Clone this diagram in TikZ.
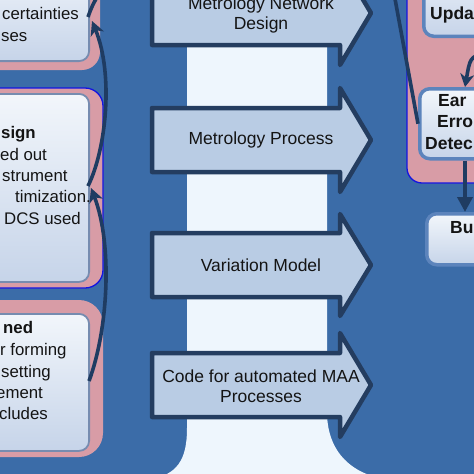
\documentclass[tikz,border=0pt]{standalone}
\usepackage{fontspec}
\setmainfont{Liberation Sans}
\usetikzlibrary{arrows.meta}
\definecolor{bgblue}{RGB}{59,108,168}
\definecolor{colwhite}{RGB}{238,246,253}
\definecolor{pinkbg}{RGB}{216,156,166}
\definecolor{outl}{RGB}{20,20,225}
\definecolor{arrfill}{RGB}{185,204,228}
\definecolor{arrdraw}{RGB}{36,61,96}
\definecolor{curvec}{RGB}{31,60,98}
\definecolor{lboxdraw}{RGB}{118,140,176}
\definecolor{rboxdraw}{RGB}{92,132,188}
\definecolor{boxtop}{RGB}{242,246,251}
\definecolor{boxbot}{RGB}{198,212,233}
\definecolor{txt}{RGB}{20,20,20}
\tikzset{
 pinkbox/.style={fill=pinkbg, inner sep=0pt, outer sep=0pt},
 lbox/.style={draw=lboxdraw, line width=1.8pt, top color=boxtop, bottom color=boxbot, rounded corners=10pt, inner sep=0pt},
 rbox/.style={draw=rboxdraw, line width=3.5pt, top color=boxtop, bottom color=boxbot, rounded corners=10pt, inner sep=0pt},
 blockarrow/.style={draw=arrdraw, fill=arrfill, line width=4.5pt, line join=round},
 atext/.style={font=\fontsize{17.5}{20}\selectfont, text=txt, align=center, inner sep=0pt},
 ltext/.style={font=\fontsize{16.8}{21.5}\selectfont, text=txt, anchor=base west, inner sep=0pt},
 btext/.style={font=\fontsize{16.8}{21.5}\selectfont\bfseries, text=txt, anchor=base west, inner sep=0pt},
 rtext/.style={font=\fontsize{17.5}{21.5}\selectfont\bfseries, text=txt, anchor=base west, inner sep=0pt},
 curvearrow/.style={draw=curvec, line width=3.6pt, -{Stealth[length=14pt,width=14pt,inset=4pt]}},
 conn/.style={draw=curvec, line width=3.6pt},
}
\begin{document}
\begin{tikzpicture}[x=1pt,y=-1pt]
\useasboundingbox (0,0) rectangle (474,474);
\begin{scope}
\clip (0,0) rectangle (474,474);
% background panels
\fill[bgblue] (-5,-5) rectangle (480,480);
\fill[colwhite] (187,-5) -- (187,428) .. controls (187,462) and (176,474) .. (150,480) -- (392,480) .. controls (352,476) and (327,452) .. (327,412) -- (327,-5) -- cycle;
% left column boxes
\node[pinkbox, rounded corners=18pt, anchor=south east, minimum width=140pt, minimum height=110pt] (pA) at (100,70) {};
\node[lbox, anchor=south east, minimum width=130pt, minimum height=100pt] (bA) at (90,62) {};
\node[pinkbox, draw=outl, line width=1.3pt, rounded corners=18pt, anchor=north east, minimum width=140pt, minimum height=200pt] (pB) at (103,88) {};
\node[lbox, anchor=north east, minimum width=130pt, minimum height=188pt] (bB) at (90,93) {};
\node[pinkbox, rounded corners=24pt, anchor=north east, minimum width=140pt, minimum height=157pt] (pC) at (103,300) {};
\node[lbox, anchor=north east, minimum width=130pt, minimum height=137pt] (bC) at (90,313) {};
% right column
\node[pinkbox, draw=outl, line width=1.3pt, rounded corners=15pt, anchor=south west, minimum width=120pt, minimum height=220pt] (pR) at (407,183) {};
\node[rbox, anchor=south west, minimum width=100pt, minimum height=80pt] (upd) at (422,38) {};
\node[rbox, anchor=north west, minimum width=100pt, minimum height=70pt] (early) at (418,87) {};
\node[rbox, anchor=north west, minimum width=100pt, minimum height=51pt] (bu) at (425,212) {};
% left texts
\node[ltext] (tA1) at (2,19) {certainties};
\node[ltext] (tA2) at (1,41) {ses};
\node[btext] (tB1) at (1,138) {sign};
\node[ltext] (tB2) at (0,160) {ed out};
\node[ltext] (tB3) at (2,181) {strument};
\node[ltext] (tB4) at (15,202) {timization.};
\node[ltext] (tB5) at (4,224) {DCS used};
\node[btext] (tC1) at (3,333) {ned};
\node[ltext] (tC2) at (0,355) {r forming};
\node[ltext] (tC3) at (1,377) {setting};
\node[ltext] (tC4) at (-4,398) {ement};
\node[ltext] (tC5) at (-1,419) {cludes};
% right texts
\node[rtext] (tU) at (430,19) {Upda};
\node[rtext] (tE1) at (438,106) {Ear};
\node[rtext] (tE2) at (437,127) {Erro};
\node[rtext] (tE3) at (425,149) {Detec};
\node[rtext] (tBu) at (450,233) {Bu};
% left curved arrows
\coordinate (c1s) at (89,381); \coordinate (c1e) at (91,188);
\draw[curvearrow] (c1s) .. controls (108,330) and (113,245) .. (c1e);
\coordinate (c2s) at (88,186); \coordinate (c2e) at (92,21);
\draw[curvearrow] (c2s) .. controls (106,150) and (114,75) .. (c2e);
\coordinate (c3s) at (88,17); \coordinate (c3e) at (101,-10);
\draw[conn] (c3s) .. controls (92,6) .. (c3e);
% right connectors
\coordinate (topin) at (393,-12);
\draw[conn] (topin) -- (early.west);
\coordinate (xc) at (465,0);
\draw[conn, -{Triangle[length=15pt,width=15pt]}] (early.south -| xc) -- (bu.north -| xc);
\coordinate (uin) at (484,52);
\draw[conn, -{Stealth[length=13pt,width=14pt,inset=4pt]}] (uin) .. controls (470,58) .. (early.north -| xc);
% center block arrows
\draw[blockarrow] (152,-19) -- (340,-19) -- (340,-39) -- (371,13) -- (340,65) -- (340,45) -- (152,45) -- cycle;
\draw[blockarrow] (152,108) -- (340,108) -- (340,88) -- (371,140) -- (340,192) -- (340,172) -- (152,172) -- cycle;
\draw[blockarrow] (152,233) -- (340,233) -- (340,214) -- (371,265) -- (340,316) -- (340,297) -- (152,297) -- cycle;
\draw[blockarrow] (152,353) -- (340,353) -- (340,333) -- (371,385) -- (340,437) -- (340,417) -- (152,417) -- cycle;
\node[atext] (a1) at (261,15) {Metrology Network\\Design};
\node[atext] (a2) at (261,140) {Metrology Process};
\node[atext] (a3) at (261,265) {Variation Model};
\node[atext] (a4) at (261,386) {Code for automated MAA\\Processes};
\end{scope}
\end{tikzpicture}
\end{document}
